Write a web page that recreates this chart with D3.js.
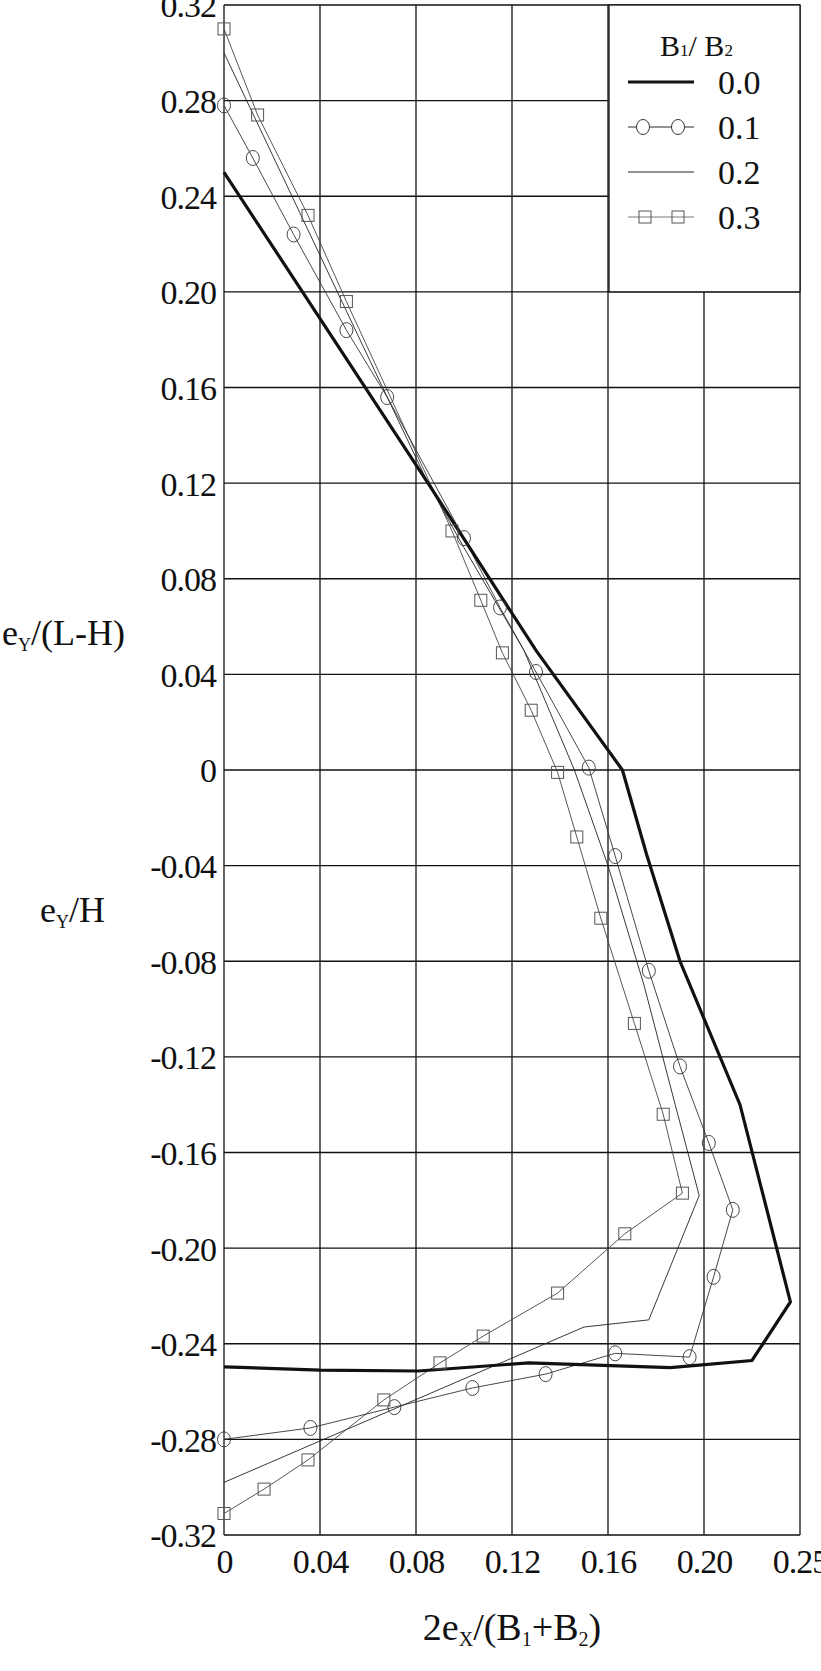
<!DOCTYPE html>
<html><head><meta charset="utf-8">
<script src="https://d3js.org/d3.v7.min.js"></script>
<style>body{margin:0;background:#fff}svg text{font-family:"Liberation Serif","DejaVu Serif",serif;fill:#111}</style>
</head><body><svg id="c" width="821" height="1671"></svg>
<script>
const xTicks=[0,0.04,0.08,0.12,0.16,0.20,0.24];
const xTickLabels=["0","0.04","0.08","0.12","0.16","0.20","0.25"];
const yTicks=[0.32,0.28,0.24,0.20,0.16,0.12,0.08,0.04,0,-0.04,-0.08,-0.12,-0.16,-0.20,-0.24,-0.28,-0.32];
const yTickLabels=["0.32","0.28","0.24","0.20","0.16","0.12","0.08","0.04","0","-0.04","-0.08","-0.12","-0.16","-0.20","-0.24","-0.28","-0.32"];
const s00=[[0,0.25],[0.085,0.12],[0.13,0.05],[0.166,0.0],[0.176,-0.035],[0.19,-0.08],[0.215,-0.14],[0.236,-0.2225],[0.22,-0.247],[0.186,-0.25],[0.127,-0.248],[0.081,-0.2514],[0.04,-0.251],[0,-0.2497]];
const s01=[[0,0.278],[0.012,0.256],[0.029,0.224],[0.051,0.184],[0.068,0.156],[0.1,0.097],[0.115,0.068],[0.13,0.041],[0.152,0.001],[0.163,-0.036],[0.177,-0.084],[0.19,-0.124],[0.202,-0.156],[0.212,-0.184],[0.204,-0.212],[0.194,-0.2456],[0.163,-0.244],[0.134,-0.2527],[0.1035,-0.2585],[0.071,-0.2665],[0.036,-0.2752],[0,-0.28]];
const s02=[[0,0.30],[0.085,0.12],[0.1,0.093],[0.125,0.05],[0.146,0.0],[0.16,-0.04],[0.175,-0.09],[0.188,-0.14],[0.198,-0.178],[0.177,-0.23],[0.15,-0.233],[0,-0.298]];
const s03=[[0,0.31],[0.014,0.274],[0.035,0.232],[0.051,0.196],[0.095,0.1],[0.107,0.071],[0.116,0.049],[0.128,0.025],[0.139,-0.001],[0.147,-0.028],[0.157,-0.062],[0.171,-0.106],[0.183,-0.144],[0.191,-0.177],[0.167,-0.194],[0.139,-0.2188],[0.108,-0.2368],[0.09,-0.248],[0.0666,-0.2635],[0.035,-0.2886],[0.0167,-0.3008],[0,-0.311]];
const legendLabels=["0.0","0.1","0.2","0.3"];

const svg=d3.select("#c");
const x=d3.scaleLinear().domain([0,0.24]).range([224,800]);
const y=d3.scaleLinear().domain([-0.32,0.32]).range([1535,5]);
const g=svg.append("g");
g.selectAll(".vg").data(xTicks).join("line").attr("x1",d=>x(d)).attr("x2",d=>x(d)).attr("y1",y(0.32)).attr("y2",y(-0.32)).attr("stroke","#111").attr("stroke-width",1.3);
g.selectAll(".hg").data(yTicks).join("line").attr("x1",x(0)).attr("x2",x(0.24)).attr("y1",d=>y(d)).attr("y2",d=>y(d)).attr("stroke","#111").attr("stroke-width",1.3);
const yAxis=d3.axisLeft(y).tickValues(yTicks).tickFormat((d,i)=>yTickLabels[i]).tickSize(0).tickPadding(8);
const ya=svg.append("g").attr("transform",`translate(${x(0)},0)`).call(yAxis);
ya.select(".domain").remove();
ya.selectAll("text").style("font-size","34px").attr("dy","0.35em").style("font-family","Liberation Serif").style("letter-spacing","-1px");
const xAxis=d3.axisBottom(x).tickValues(xTicks).tickFormat((d,i)=>xTickLabels[i]).tickSize(0).tickPadding(14);
const xa=svg.append("g").attr("transform",`translate(0,${y(-0.32)})`).call(xAxis);
xa.select(".domain").remove();
xa.selectAll("text").style("font-size","34px").attr("dy","0.71em").style("font-family","Liberation Serif").style("letter-spacing","-1px");
const lg=svg.append("g");
lg.append("rect").attr("x",609).attr("y",y(0.32)).attr("width",x(0.24)-609).attr("height",y(0.20)-y(0.32)).attr("fill","#fff").attr("stroke","#111").attr("stroke-width",1.3);
const line=d3.line().x(d=>x(d[0])).y(d=>y(d[1]));
const P=svg.append("g");
P.append("path").datum(s02).attr("d",line).attr("fill","none").attr("stroke","#222").attr("stroke-width",0.9);
P.append("path").datum(s03).attr("d",line).attr("fill","none").attr("stroke","#444").attr("stroke-width",0.9);
P.append("path").datum(s01).attr("d",line).attr("fill","none").attr("stroke","#333").attr("stroke-width",0.9);
P.append("path").datum(s00).attr("d",line).attr("fill","none").attr("stroke","#111").attr("stroke-width",3.2);
P.selectAll(".c").data(s01).join("ellipse").attr("cx",d=>x(d[0])).attr("cy",d=>y(d[1])).attr("rx",6.5).attr("ry",7.5).attr("fill","none").attr("stroke","#333").attr("stroke-width",0.9);
P.selectAll(".s").data(s03).join("rect").attr("x",d=>x(d[0])-6).attr("y",d=>y(d[1])-6).attr("width",12).attr("height",12).attr("fill","none").attr("stroke","#555").attr("stroke-width",1);
const lt=lg.append("text").attr("x",660).attr("y",56).style("font-size","30px");
lt.append("tspan").text("B");lt.append("tspan").text("1").style("font-size","17px");lt.append("tspan").text("/ B");lt.append("tspan").text("2").style("font-size","17px");
const rows=[82,127,172,217];
legendLabels.forEach((l,i)=>{
  const yy=rows[i];
  const st=i==0?3.2:0.9;
  lg.append("line").attr("x1",628).attr("x2",694).attr("y1",yy).attr("y2",yy).attr("stroke",i==3?"#666":"#111").attr("stroke-width",st);
  if(i==1)[643,678].forEach(cx=>lg.append("ellipse").attr("cx",cx).attr("cy",yy).attr("rx",6.5).attr("ry",7.5).attr("fill","#fff").attr("stroke","#333"));
  if(i==3)[645,678].forEach(cx=>lg.append("rect").attr("x",cx-6).attr("y",yy-6).attr("width",12).attr("height",12).attr("fill","none").attr("stroke","#555"));
  lg.append("text").attr("x",718).attr("y",yy+12).style("font-size","34px").text(l);
});
function sub(t,txt,fs){t.append("tspan").text(txt).style("font-size",fs).attr("dy","6");}
function back(t,txt){t.append("tspan").text(txt).attr("dy","-6");}
const t1=svg.append("text").attr("x",2).attr("y",645).style("font-size","36px");
t1.append("tspan").text("e");sub(t1,"Y","18px");back(t1,"/(L-H)");
const t2=svg.append("text").attr("x",40).attr("y",922).style("font-size","36px");
t2.append("tspan").text("e");sub(t2,"Y","18px");back(t2,"/H");
const t3=svg.append("text").attr("x",512).attr("y",1640).attr("text-anchor","middle").style("font-size","38px");
t3.append("tspan").text("2e");sub(t3,"X","20px");back(t3,"/(B");sub(t3,"1","20px");back(t3,"+B");sub(t3,"2","20px");back(t3,")");
</script></body></html>
